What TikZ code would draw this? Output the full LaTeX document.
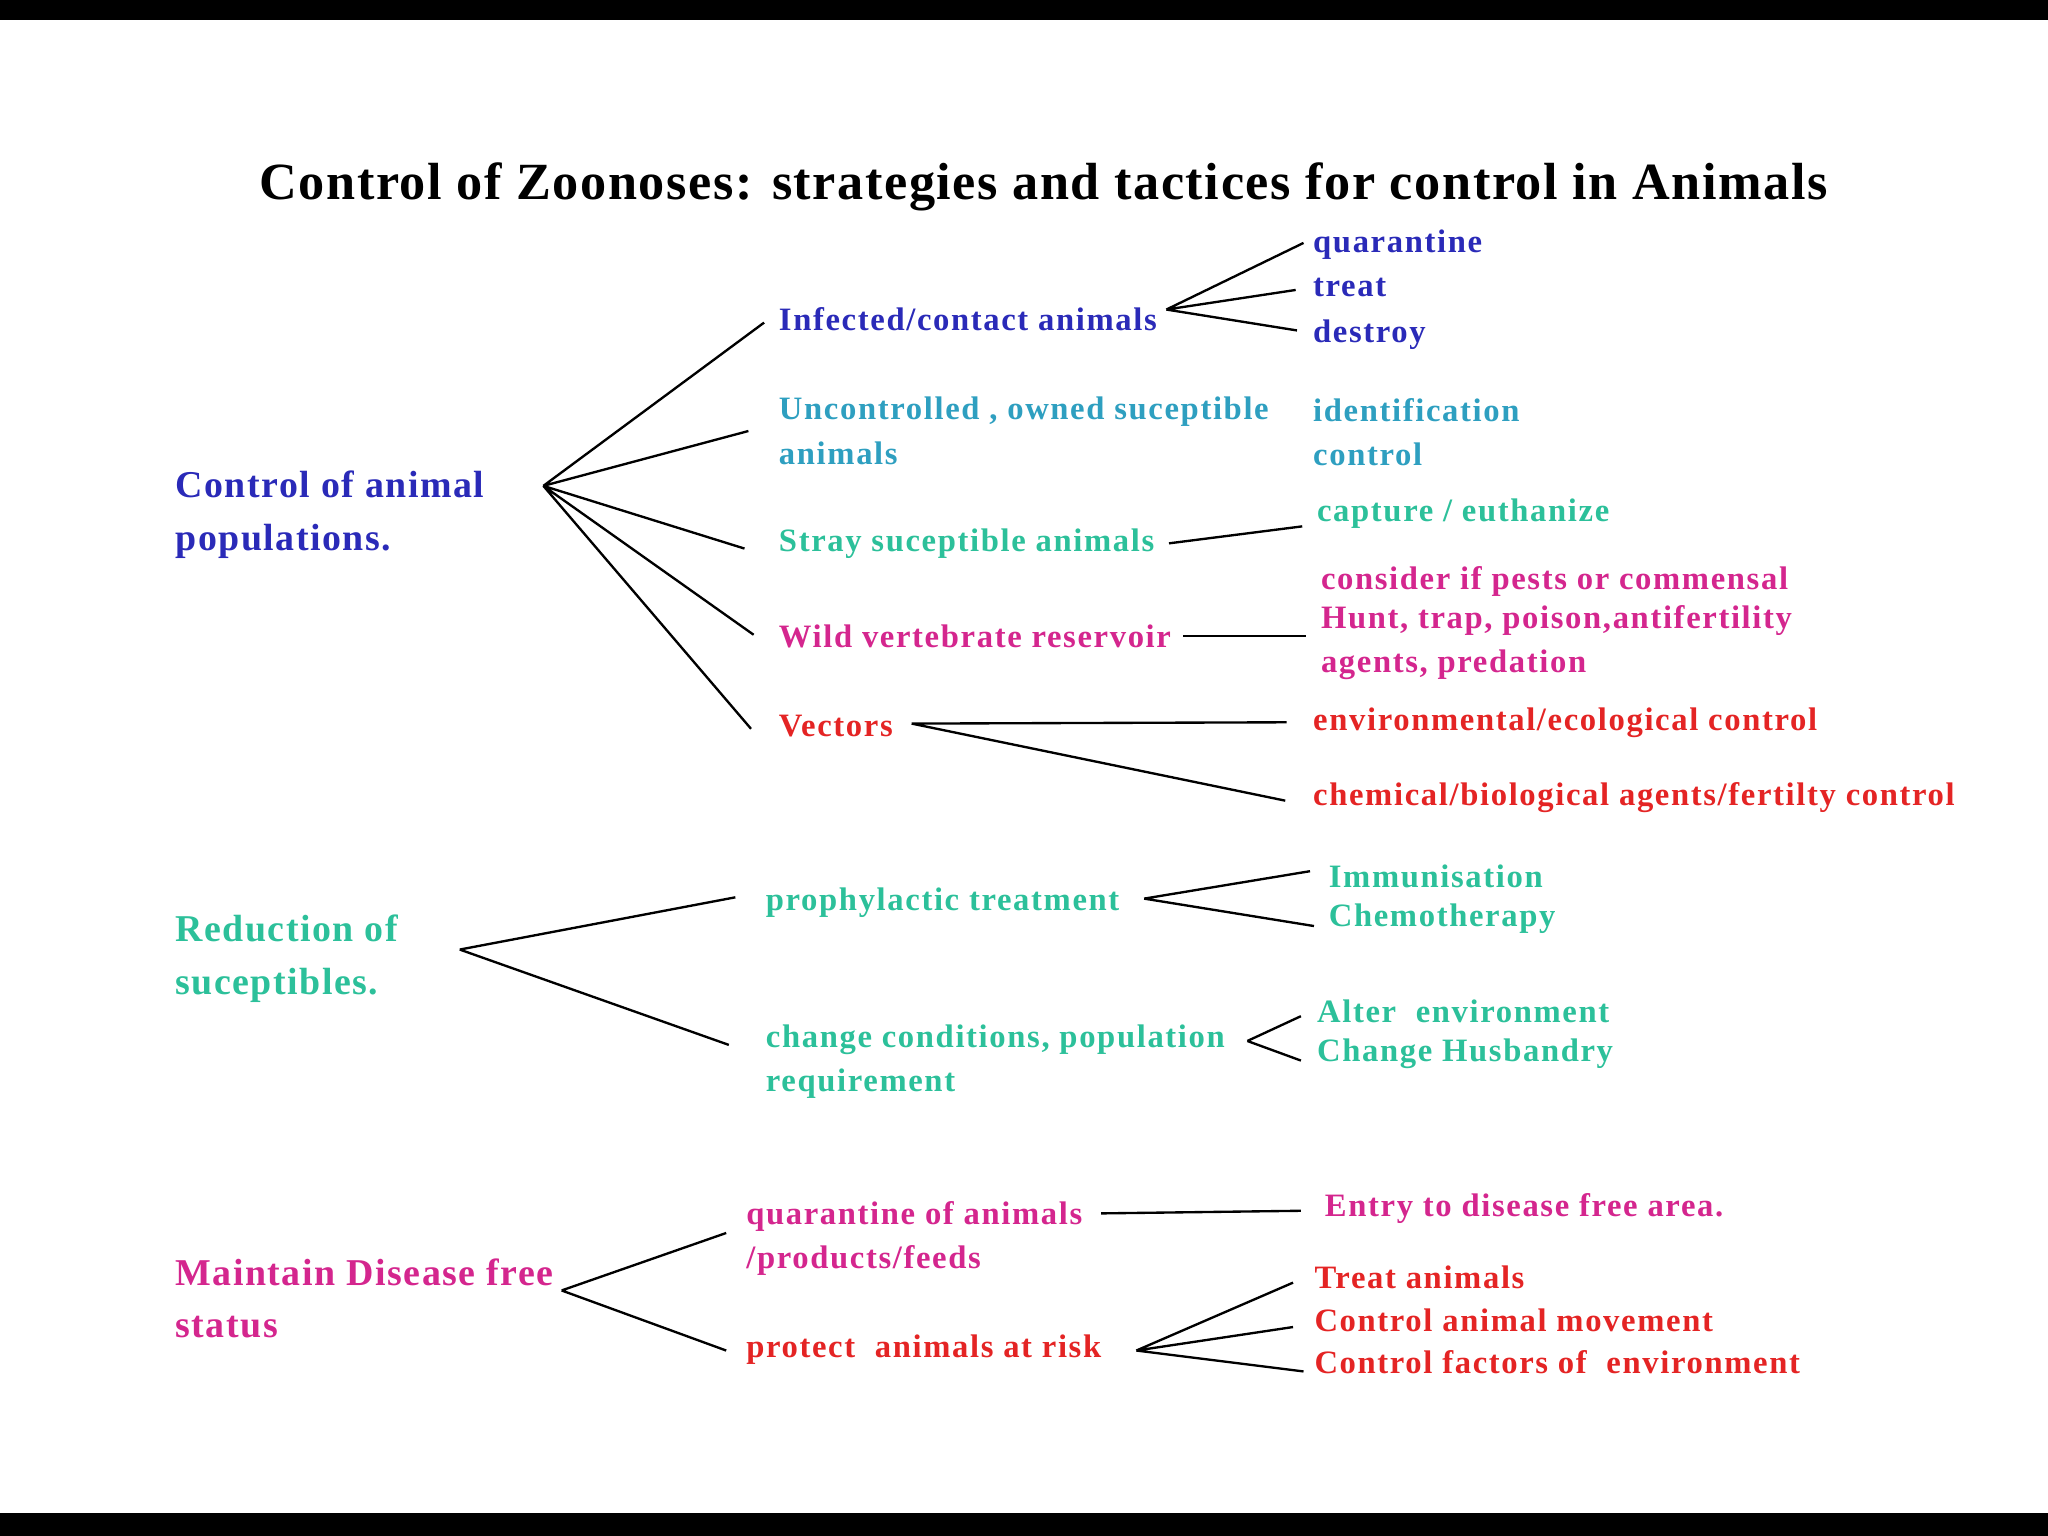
\documentclass[tikz,border=0pt]{standalone}
\usepackage{fontspec}
\setmainfont{Liberation Serif}
\definecolor{cblue}{HTML}{2A2AB8}
\definecolor{ccyan}{HTML}{2E9FC0}
\definecolor{cteal}{HTML}{2CC09A}
\definecolor{cmag}{HTML}{D4268E}
\definecolor{cred}{HTML}{E42424}
\begin{document}
\begin{tikzpicture}[x=0.5pt,y=-0.5pt,
  t/.style={anchor=west,inner sep=0pt,font=\bfseries\fontsize{12.5}{17}\selectfont\addfontfeatures{LetterSpace=5},align=left},
  big/.style={anchor=west,inner sep=0pt,font=\bfseries\fontsize{14.5}{20}\selectfont\addfontfeatures{LetterSpace=4},align=left},
  ln/.style={line width=0.9pt,black}]
\useasboundingbox (0,0) rectangle (1568,1176);
\fill[black] (0,0) rectangle (1568,15);
\fill[black] (0,1158) rectangle (1568,1176);
\node[inner sep=0pt,font=\bfseries\fontsize{20}{24}\selectfont\addfontfeatures{LetterSpace=3}] (title) at (799,143) {Control of Zoonoses: strategies and tactices for control in Animals};
% group 1
\node[big,text=cblue] (g1) at (134,394) {Control of animal\\populations.};
\coordinate (A) at (416,372);
\node[t,text=cblue] (inf) at (596,244) {Infected/contact animals};
\node[t,text=ccyan] (unc) at (596,330) {Uncontrolled , owned suceptible\\animals};
\node[t,text=cteal] (str) at (596,416) {Stray suceptible animals};
\node[t,text=cmag] (wild) at (596,487) {Wild vertebrate reservoir};
\node[t,text=cred] (vec) at (596,556) {Vectors};
\draw[ln] (A)--(585,247) (A)--(573,330) (A)--(570,420) (A)--(577,486) (A)--(575,558);
\node[t,text=cblue] (q) at (1005,187) {quarantine};
\node[t,text=cblue] (tr) at (1005,220) {treat};
\node[t,text=cblue] (de) at (1005,256) {destroy};
\coordinate (B) at (893,237);
\draw[ln] (B)--(998,186) (B)--(992,222) (B)--(993,253);
\node[t,text=ccyan] (idc) at (1005,331) {identification\\control};
\node[t,text=cteal] (cap) at (1008,393) {capture / euthanize};
\draw[ln] (895,416)--(997,403);
\node[t,text=cmag] (con) at (1011,445) {consider if pests or commensal};
\node[t,text=cmag] (hunt) at (1011,492) {Hunt, trap, poison,antifertility\\agents, predation};
\draw[ln] (906,487)--(1000,487);
\node[t,text=cred] (env) at (1005,553) {environmental/ecological control};
\node[t,text=cred] (chem) at (1005,611) {chemical/biological agents/fertilty control};
\coordinate (V) at (698,554);
\draw[ln] (V)--(985,553) (V)--(984,613);
% group 2
\node[big,text=cteal] (g2) at (134,734) {Reduction of\\suceptibles.};
\coordinate (C) at (352,727);
\draw[ln] (C)--(563,687) (C)--(558,800);
\node[t,text=cteal] (pro) at (586,691) {prophylactic treatment};
\node[t,text=cteal] (chg) at (586,813) {change conditions, population\\requirement};
\coordinate (D) at (876,688);
\draw[ln] (D)--(1003,667) (D)--(1006,709);
\node[t,text=cteal] (imm) at (1017,671) {Immunisation};
\node[t,text=cteal] (che) at (1017,703) {Chemotherapy};
\coordinate (E) at (955,797);
\draw[ln] (E)--(996,778) (E)--(996,812);
\node[t,text=cteal] (alt) at (1008,774) {Alter~ environment};
\node[t,text=cteal] (hus) at (1008,807) {Change Husbandry};
% group 3
\node[big,text=cmag] (g3) at (134,994) {Maintain Disease free\\status};
\coordinate (F) at (430,988);
\draw[ln] (F)--(556,944) (F)--(556,1034);
\node[t,text=cmag] (qa) at (571,948) {quarantine of animals\\/products/feeds};
\draw[ln] (843,929)--(996,927);
\node[t,text=cmag] (ent) at (1014,925) {Entry to disease free area.};
\node[t,text=cred] (prot) at (571,1033) {protect~ animals at risk};
\coordinate (G) at (870,1034);
\draw[ln] (G)--(990,982) (G)--(990,1016) (G)--(998,1050);
\node[t,text=cred] (ta) at (1006,978) {Treat animals};
\node[t,text=cred] (cam) at (1006,1011) {Control animal movement};
\node[t,text=cred] (cfe) at (1006,1043) {Control factors of~ environment};
\end{tikzpicture}
\end{document}
